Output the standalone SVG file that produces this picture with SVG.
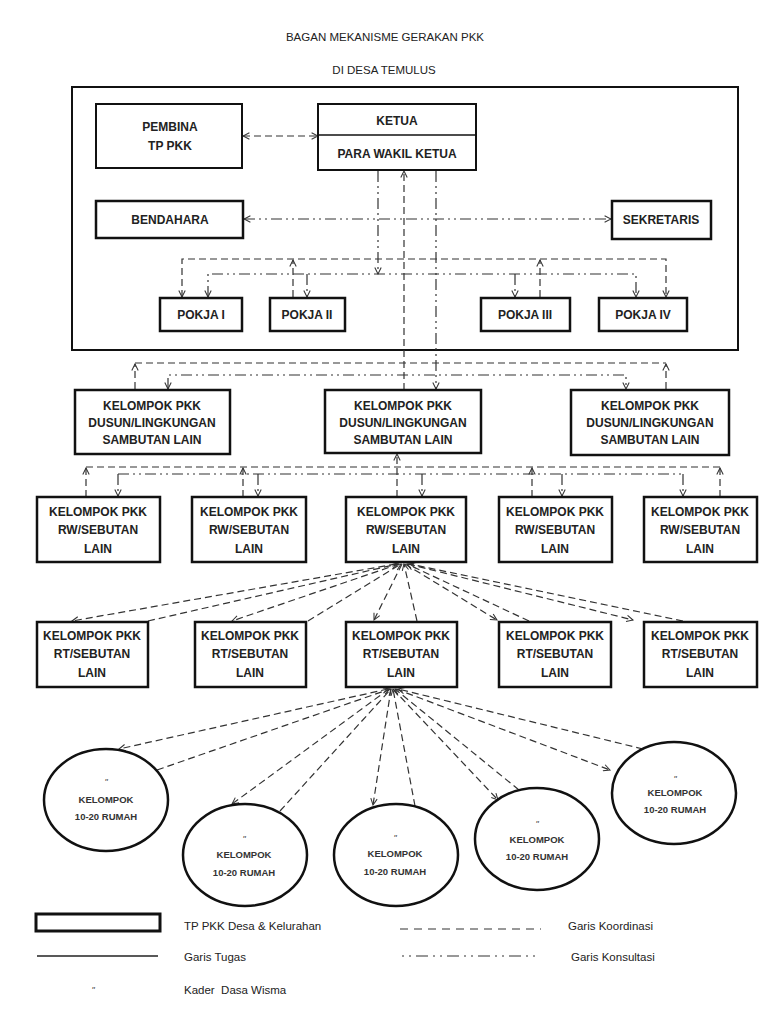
<svg xmlns="http://www.w3.org/2000/svg" width="768" height="1024" viewBox="0 0 768 1024">
<style>
  .bx{fill:#fff;stroke:#111;stroke-width:2.5}
  .ob{fill:none;stroke:#111;stroke-width:2}
  .el{fill:#fff;stroke:#111;stroke-width:2.5}
  .t{font-family:"Liberation Sans",Arial,sans-serif;font-size:12px;font-weight:bold;fill:#222;text-anchor:middle}
  .ts{font-family:"Liberation Sans",Arial,sans-serif;font-size:9.5px;font-weight:bold;fill:#333;text-anchor:middle}
  .q{font-family:"Liberation Sans",Arial,sans-serif;font-size:9px;font-style:italic;fill:#444;text-anchor:middle}
  .tt{font-family:"Liberation Sans",Arial,sans-serif;font-size:11.5px;fill:#222;text-anchor:middle}
  .lg{font-family:"Liberation Sans",Arial,sans-serif;font-size:11.5px;fill:#222}
  .d{fill:none;stroke:#333;stroke-width:1.2;stroke-dasharray:7 4}
  .dd{fill:none;stroke:#333;stroke-width:1.2;stroke-dasharray:11 4 2 4 2 4}
  .a{marker-end:url(#ah)}
  .aa{marker-start:url(#ah);marker-end:url(#ah)}
</style>
<defs>
  <marker id="ah" viewBox="0 0 10 10" refX="9" refY="5" markerWidth="8" markerHeight="8" markerUnits="userSpaceOnUse" orient="auto-start-reverse">
    <path d="M1,1 L9,5 L1,9" fill="none" stroke="#333" stroke-width="1.3" stroke-dasharray="none"/>
  </marker>
</defs>

<g id="title">
  <text class="tt" x="385" y="41">BAGAN MEKANISME GERAKAN PKK</text>
  <text class="tt" x="384" y="74">DI DESA TEMULUS</text>
</g>

<g id="tp-pkk-desa">
  <rect class="ob" x="72" y="87" width="666" height="263"/>
</g>

<g id="connectors">
  <line class="d aa" x1="243" y1="136" x2="318" y2="136"/>
  <line class="dd aa" x1="244" y1="219" x2="611" y2="219"/>
  <line class="dd a" x1="378" y1="171" x2="378" y2="274"/>
  <line class="d a" x1="404" y1="390" x2="404" y2="171"/>
  <line class="dd a" x1="436" y1="171" x2="436" y2="389"/>
  <path class="d aa" d="M182,297 V259 H666 V297"/>
  <line class="d a" x1="293" y1="297" x2="293" y2="260"/>
  <line class="d a" x1="540" y1="297" x2="540" y2="260"/>
  <path class="dd aa" d="M208,297 V274 H636 V297"/>
  <line class="dd a" x1="307" y1="274" x2="307" y2="297"/>
  <line class="dd a" x1="515" y1="274" x2="515" y2="297"/>
  <line class="d" x1="135" y1="363" x2="666" y2="363"/>
  <line class="d a" x1="135" y1="389" x2="135" y2="364"/>
  <line class="d a" x1="666" y1="389" x2="666" y2="364"/>
  <path class="dd aa" d="M168,389 V375 H626 V389"/>
  <line class="d" x1="86" y1="467" x2="720" y2="467"/>
  <line class="d a" x1="86" y1="497" x2="86" y2="468"/>
  <line class="d a" x1="243" y1="497" x2="243" y2="468"/>
  <line class="d a" x1="532" y1="497" x2="532" y2="468"/>
  <line class="d a" x1="720" y1="497" x2="720" y2="468"/>
  <line class="d a" x1="397" y1="497" x2="397" y2="454"/>
  <line class="dd" x1="118" y1="474" x2="683" y2="474"/>
  <line class="dd a" x1="118" y1="474" x2="118" y2="496"/>
  <line class="dd a" x1="258" y1="474" x2="258" y2="496"/>
  <line class="dd a" x1="422" y1="474" x2="422" y2="496"/>
  <line class="dd a" x1="562" y1="474" x2="562" y2="496"/>
  <line class="dd a" x1="683" y1="474" x2="683" y2="496"/>
  <line class="d a" x1="396" y1="564" x2="72" y2="621"/>
  <line class="d a" x1="148" y1="621" x2="398" y2="564"/>
  <line class="d a" x1="399" y1="564" x2="232" y2="621"/>
  <line class="d a" x1="308" y1="621" x2="401" y2="564"/>
  <line class="d a" x1="402" y1="564" x2="374" y2="620"/>
  <line class="d a" x1="417" y1="621" x2="404" y2="564"/>
  <line class="d a" x1="405" y1="564" x2="497" y2="620"/>
  <line class="d a" x1="529" y1="621" x2="407" y2="564"/>
  <line class="d a" x1="408" y1="564" x2="633" y2="620"/>
  <line class="d a" x1="683" y1="621" x2="410" y2="564"/>
  <line class="d a" x1="388" y1="689" x2="119" y2="749"/>
  <line class="d a" x1="157" y1="770" x2="390" y2="689"/>
  <line class="d a" x1="389" y1="689" x2="232" y2="804"/>
  <line class="d a" x1="280" y1="811" x2="391" y2="689"/>
  <line class="d a" x1="391" y1="689" x2="373" y2="805"/>
  <line class="d a" x1="415" y1="806" x2="393" y2="689"/>
  <line class="d a" x1="393" y1="689" x2="498" y2="800"/>
  <line class="d a" x1="519" y1="790" x2="395" y2="689"/>
  <line class="d a" x1="396" y1="689" x2="610" y2="770"/>
  <line class="d a" x1="643" y1="749" x2="398" y2="689"/>
</g>

<g id="pembina">
  <rect class="bx" x="96" y="104" width="146" height="64" style="stroke-width:2"/>
  <text class="t" x="170" y="131">PEMBINA</text>
  <text class="t" x="170" y="150">TP PKK</text>
</g>
<g id="ketua">
  <rect class="bx" x="318" y="104" width="158" height="66" style="stroke-width:2"/>
  <line x1="318" y1="135" x2="476" y2="135" stroke="#111" stroke-width="1.5"/>
  <text class="t" x="397" y="125">KETUA</text>
  <text class="t" x="397" y="158">PARA WAKIL KETUA</text>
</g>
<g id="bendahara">
  <rect class="bx" x="96" y="201" width="147" height="37"/>
  <text class="t" x="170" y="224">BENDAHARA</text>
</g>
<g id="sekretaris">
  <rect class="bx" x="612" y="201" width="99" height="38"/>
  <text class="t" x="661" y="224">SEKRETARIS</text>
</g>
<g id="pokja-1">
  <rect class="bx" x="160" y="298" width="82" height="33"/>
  <text class="t" x="201" y="319">POKJA I</text>
</g>
<g id="pokja-2">
  <rect class="bx" x="270" y="298" width="75" height="33"/>
  <text class="t" x="307" y="319">POKJA II</text>
</g>
<g id="pokja-3">
  <rect class="bx" x="481" y="298" width="89" height="33"/>
  <text class="t" x="525" y="319">POKJA III</text>
</g>
<g id="pokja-4">
  <rect class="bx" x="599" y="298" width="88" height="33"/>
  <text class="t" x="643" y="319">POKJA IV</text>
</g>

<g id="dusun-1">
  <rect class="bx" x="75" y="390" width="155" height="64"/>
  <text class="t" x="152" y="410">KELOMPOK PKK</text>
  <text class="t" x="152" y="427">DUSUN/LINGKUNGAN</text>
  <text class="t" x="152" y="444">SAMBUTAN LAIN</text>
</g>
<g id="dusun-2">
  <rect class="bx" x="325" y="390" width="156" height="63"/>
  <text class="t" x="403" y="410">KELOMPOK PKK</text>
  <text class="t" x="403" y="427">DUSUN/LINGKUNGAN</text>
  <text class="t" x="403" y="444">SAMBUTAN LAIN</text>
</g>
<g id="dusun-3">
  <rect class="bx" x="571" y="390" width="158" height="65"/>
  <text class="t" x="650" y="410">KELOMPOK PKK</text>
  <text class="t" x="650" y="427">DUSUN/LINGKUNGAN</text>
  <text class="t" x="650" y="444">SAMBUTAN LAIN</text>
</g>

<g id="rw-1">
  <rect class="bx" x="37" y="497" width="123" height="65"/>
  <text class="t" x="98" y="516">KELOMPOK PKK</text>
  <text class="t" x="98" y="534">RW/SEBUTAN</text>
  <text class="t" x="98" y="553">LAIN</text>
</g>
<g id="rw-2">
  <rect class="bx" x="192" y="497" width="114" height="65"/>
  <text class="t" x="249" y="516">KELOMPOK PKK</text>
  <text class="t" x="249" y="534">RW/SEBUTAN</text>
  <text class="t" x="249" y="553">LAIN</text>
</g>
<g id="rw-3">
  <rect class="bx" x="346" y="497" width="120" height="65"/>
  <text class="t" x="406" y="516">KELOMPOK PKK</text>
  <text class="t" x="406" y="534">RW/SEBUTAN</text>
  <text class="t" x="406" y="553">LAIN</text>
</g>
<g id="rw-4">
  <rect class="bx" x="499" y="497" width="113" height="65"/>
  <text class="t" x="555" y="516">KELOMPOK PKK</text>
  <text class="t" x="555" y="534">RW/SEBUTAN</text>
  <text class="t" x="555" y="553">LAIN</text>
</g>
<g id="rw-5">
  <rect class="bx" x="644" y="497" width="113" height="65"/>
  <text class="t" x="700" y="516">KELOMPOK PKK</text>
  <text class="t" x="700" y="534">RW/SEBUTAN</text>
  <text class="t" x="700" y="553">LAIN</text>
</g>

<g id="rt-1">
  <rect class="bx" x="37" y="622" width="111" height="65"/>
  <text class="t" x="92" y="640">KELOMPOK PKK</text>
  <text class="t" x="92" y="658">RT/SEBUTAN</text>
  <text class="t" x="92" y="677">LAIN</text>
</g>
<g id="rt-2">
  <rect class="bx" x="195" y="622" width="111" height="65"/>
  <text class="t" x="250" y="640">KELOMPOK PKK</text>
  <text class="t" x="250" y="658">RT/SEBUTAN</text>
  <text class="t" x="250" y="677">LAIN</text>
</g>
<g id="rt-3">
  <rect class="bx" x="346" y="622" width="111" height="65"/>
  <text class="t" x="401" y="640">KELOMPOK PKK</text>
  <text class="t" x="401" y="658">RT/SEBUTAN</text>
  <text class="t" x="401" y="677">LAIN</text>
</g>
<g id="rt-4">
  <rect class="bx" x="499" y="622" width="112" height="65"/>
  <text class="t" x="555" y="640">KELOMPOK PKK</text>
  <text class="t" x="555" y="658">RT/SEBUTAN</text>
  <text class="t" x="555" y="677">LAIN</text>
</g>
<g id="rt-5">
  <rect class="bx" x="644" y="622" width="113" height="65"/>
  <text class="t" x="700" y="640">KELOMPOK PKK</text>
  <text class="t" x="700" y="658">RT/SEBUTAN</text>
  <text class="t" x="700" y="677">LAIN</text>
</g>

<g id="dasawisma-1">
  <ellipse class="el" cx="106" cy="800" rx="62" ry="51"/>
  <text class="q" x="106" y="785">"</text>
  <text class="ts" x="106" y="803">KELOMPOK</text>
  <text class="ts" x="106" y="820">10-20 RUMAH</text>
</g>
<g id="dasawisma-2">
  <ellipse class="el" cx="245" cy="855" rx="62" ry="51"/>
  <text class="q" x="244" y="842">"</text>
  <text class="ts" x="244" y="858">KELOMPOK</text>
  <text class="ts" x="244" y="876">10-20 RUMAH</text>
</g>
<g id="dasawisma-3">
  <ellipse class="el" cx="396" cy="855" rx="62" ry="51"/>
  <text class="q" x="395" y="841">"</text>
  <text class="ts" x="395" y="857">KELOMPOK</text>
  <text class="ts" x="395" y="875">10-20 RUMAH</text>
</g>
<g id="dasawisma-4">
  <ellipse class="el" cx="537" cy="839" rx="62" ry="51"/>
  <text class="q" x="537" y="827">"</text>
  <text class="ts" x="537" y="843">KELOMPOK</text>
  <text class="ts" x="537" y="860">10-20 RUMAH</text>
</g>
<g id="dasawisma-5">
  <ellipse class="el" cx="674" cy="793" rx="62" ry="51"/>
  <text class="q" x="675" y="782">"</text>
  <text class="ts" x="675" y="796">KELOMPOK</text>
  <text class="ts" x="675" y="813">10-20 RUMAH</text>
</g>

<g id="legend">
  <rect x="36" y="914" width="124" height="17" fill="#fff" stroke="#111" stroke-width="3"/>
  <text class="lg" x="184" y="930">TP PKK Desa &amp; Kelurahan</text>
  <line x1="400" y1="929" x2="541" y2="929" stroke="#333" stroke-width="1.2" stroke-dasharray="8 6"/>
  <text class="lg" x="568" y="930">Garis Koordinasi</text>
  <line x1="37" y1="956" x2="158" y2="956" stroke="#222" stroke-width="1.3"/>
  <text class="lg" x="184" y="961">Garis Tugas</text>
  <line x1="402" y1="956" x2="539" y2="956" stroke="#333" stroke-width="1.2" stroke-dasharray="2 5 2 5 12 5"/>
  <text class="lg" x="571" y="961">Garis Konsultasi</text>
  <text class="q" x="93" y="993">"</text>
  <text class="lg" x="184" y="994" xml:space="preserve">Kader  Dasa Wisma</text>
</g>
</svg>
